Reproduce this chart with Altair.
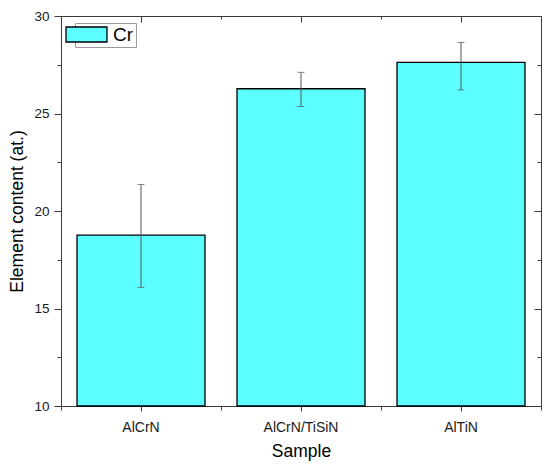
import altair as alt
import pandas as pd

# Cr content per coating (at.%)
samples = ["AlCrN", "AlCrN/TiSiN", "AlTiN"]
cr = [18.76, 26.27, 27.62]
err_low = [16.08, 25.36, 26.21]
err_high = [21.36, 27.11, 28.64]

major_y = [10, 15, 20, 25, 30]
minor_y = [12.5, 17.5, 22.5, 27.5]

W, H = 480, 390
FONT = "Liberation Sans"
FRAME = "#3a3a3a"
CYAN = "#5cffff"

df = pd.DataFrame({"sample": samples, "cr": cr, "lo": err_low,
                   "hi": err_high, "element": "Cr"})

# bands fill the whole step so that "extent" ticks sit between samples
x_scale = alt.Scale(paddingInner=0, paddingOuter=0)
y_scale = alt.Scale(domain=[10, 30], nice=False, zero=False, clamp=True)


def bare(**kw):
    """Tick-only axis: no labels, no domain, no title."""
    return alt.Axis(title=None, labels=False, domain=False, grid=False, **kw)


base = alt.Chart(df)

bars = base.mark_bar(stroke="black", strokeWidth=1.3,
                     width=alt.RelativeBandSize(0.8)).encode(
    x=alt.X("sample:N", sort=samples, scale=x_scale,
            axis=alt.Axis(orient="bottom", title="Sample", labelAngle=0,
                          tickSize=5, labelPadding=9, labelFontSize=14,
                          titleY=50, titleBaseline="alphabetic")),
    y=alt.Y("cr:Q", scale=y_scale,
            axis=alt.Axis(orient="left", title="Element content (at.)",
                          values=major_y, tickSize=7, labelPadding=5,
                          labelFontSize=13.5,
                          titleAngle=270, titleX=-39, titleY=H / 2,
                          titleAlign="center", titleBaseline="alphabetic")),
    fill=alt.Fill("element:N", scale=alt.Scale(domain=["Cr"], range=[CYAN]),
                  legend=alt.Legend(title=None, orient="none", legendX=14,
                                    legendY=7,
                                    symbolType="M-2.73,-1H2.73V1H-2.73Z",
                                    symbolSize=225, symbolStrokeColor="black",
                                    symbolStrokeWidth=1.3, symbolOpacity=1,
                                    labelFont=FONT, labelFontSize=19,
                                    labelColor="black", labelOffset=17,
                                    padding=2, strokeColor="#9a9a9a",
                                    fillColor="white")),
)

# error bars; these layers also carry the minor and mirrored tick axes
whisker = base.mark_rule(color="#555555", strokeWidth=1).encode(
    x=alt.X("sample:N", sort=samples,
            axis=bare(orient="bottom", tickBand="extent", tickSize=4)),
    y=alt.Y("lo:Q", axis=bare(orient="left", values=minor_y, tickSize=4)),
    y2="hi:Q",
)

cap_lo = base.mark_tick(color="#555555", thickness=1, size=7,
                        orient="horizontal").encode(
    x=alt.X("sample:N", sort=samples,
            axis=bare(orient="bottom", offset=-H, tickSize=6)),
    y=alt.Y("lo:Q", axis=bare(orient="left", offset=-W, values=major_y,
                              tickSize=7)),
)

cap_hi = base.mark_tick(color="#555555", thickness=1, size=7,
                        orient="horizontal").encode(
    x=alt.X("sample:N", sort=samples,
            axis=bare(orient="bottom", offset=-H, tickBand="extent",
                      tickSize=3)),
    y=alt.Y("hi:Q", axis=bare(orient="left", offset=-W, values=minor_y,
                              tickSize=4)),
)

chart = (
    alt.layer(bars, whisker, cap_lo, cap_hi)
    .resolve_axis(x="independent", y="independent")
    .properties(width=W, height=H,
                autosize=alt.AutoSizeParams(type="none"),
                padding={"left": 53, "top": 8, "right": 1, "bottom": 55})
    .configure_view(stroke=FRAME, strokeWidth=1)
    .configure_axis(domainColor=FRAME, tickColor=FRAME, tickWidth=1,
                    labelColor="#1a1a1a", labelFont=FONT, labelFontSize=14,
                    titleFont=FONT, titleFontSize=17.5, titleFontWeight="normal",
                    titleColor="black", grid=False)
)

chart.save("out.html", embed_options={"renderer": "svg", "actions": False})
